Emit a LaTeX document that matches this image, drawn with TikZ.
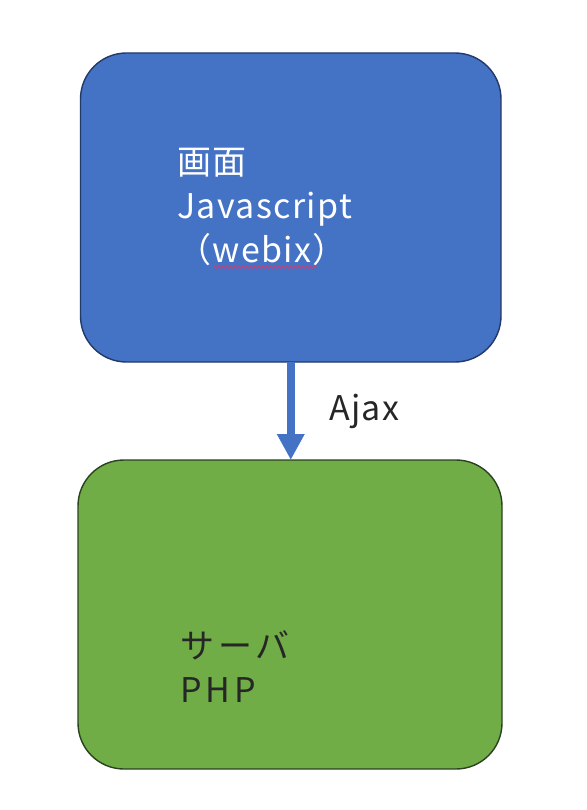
\documentclass[tikz,border=0pt]{standalone}
\usepackage{fontspec}
\setmainfont{Noto Sans CJK JP}[LetterSpace=4]
\usepackage{tikz}
\usetikzlibrary{arrows.meta,decorations.pathmorphing}
\definecolor{boxblue}{HTML}{4472C4}
\definecolor{boxgreen}{HTML}{70AD47}
\definecolor{edgeblue}{HTML}{22396A}
\definecolor{edgegreen}{HTML}{2A4220}
\definecolor{wavyred}{HTML}{C8407A}

\begin{document}
\begin{tikzpicture}[x=1pt, y=-1pt,
		layer/.style={rounded corners=46pt, line width=1.4pt, inner sep=0pt, outer sep=0pt},
		bigtext/.style={inner sep=0pt, anchor=north west, align=left, font=\fontsize{34}{44}\selectfont}]
			%%%%% START %%%%%
			
			\useasboundingbox (0, 0) rectangle (586, 810);
			
			\draw[layer, fill=boxblue, draw=edgeblue] (80.5, 53) rectangle (501, 362);
			\node[inner sep=0pt, outer sep=0pt, minimum width=420.5pt, minimum height=309pt] (screen) at (290.75, 207.5) {};
			\node[bigtext, text=white] (screentext) at (177, 148) {画面\\Javascript\\（webix）};
			\draw[wavyred, line width=0.9pt, decorate, decoration={zigzag, amplitude=1.5pt, segment length=4pt}] (214, 267) -- (317, 267);
			
			\draw[layer, fill=boxgreen, draw=edgegreen] (78, 460) rectangle (502, 769);
			\node[inner sep=0pt, outer sep=0pt, minimum width=424pt, minimum height=309pt] (server) at (290.75, 614.5) {};
			\node[bigtext, text=black!85, font=\fontsize{34}{44}\selectfont\addfontfeature{LetterSpace=12}] (servertext) at (180, 630) {サーバ\\PHP};
			
			\draw[boxblue, line width=8.5pt, -{Triangle[width=26pt, length=26pt]}] (screen.south) -- (server.north)
				node[midway, right=34pt, inner sep=0pt, text=black!85, font=\fontsize{34}{40}\selectfont] (ajax) {Ajax};
			
			%%%%% END %%%%%
		\end{tikzpicture}
\end{document}
